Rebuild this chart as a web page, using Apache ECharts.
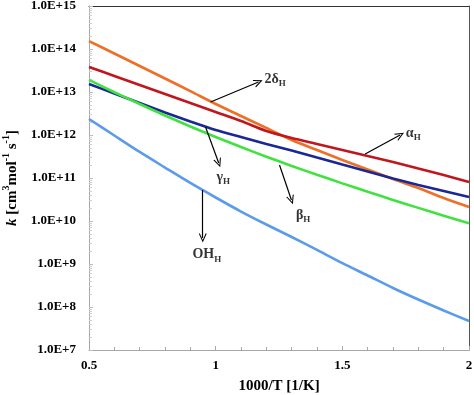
<!DOCTYPE html>
<html>
<head>
<meta charset="utf-8">
<script src="https://cdn.jsdelivr.net/npm/echarts@6/dist/echarts.min.js"></script>
<style>html,body{margin:0;padding:0;background:#fff}#c{width:474px;height:395px}</style>
</head>
<body>
<div id="c"></div>
<script>
// x values: 1000/T [1/K]
const xInvT = [0.5,0.6,0.7,0.8,0.9,1.0,1.1,1.2,1.3,1.4,1.5,1.6,1.7,1.8,1.9,2.0];
// k [cm3 mol-1 s-1]
const k2deltaH = [1.53e14,7.85e13,4.03e13,2.06e13,1.05e13,5.26e12,2.77e12,1.46e12,7.66e11,4.48e11,2.62e11,1.58e11,9.48e10,5.85e10,3.43e10,2.12e10];
const kAlphaH  = [3.81e13,2.36e13,1.46e13,8.98e12,5.55e12,3.43e12,2.12e12,1.24e12,8.51e11,6.18e11,4.48e11,3.25e11,2.36e11,1.66e11,1.17e11,8.07e10];
const kGammaH  = [1.53e13,9.23e12,5.55e12,3.33e12,2.06e12,1.31e12,8.98e11,6.18e11,4.37e11,3.00e11,2.06e11,1.42e11,9.73e10,6.87e10,4.99e10,3.61e10];
const kBetaH   = [1.91e13,9.89e12,5.25e12,2.85e12,1.58e12,9.02e11,5.25e11,3.13e11,1.91e11,1.19e11,7.50e10,4.79e10,3.09e10,2.02e10,1.33e10,8.91e9];
const kOHH     = [2.36e12,9.73e11,4.03e11,1.75e11,7.66e10,3.52e10,1.66e10,8.30e9,4.25e9,2.12e9,1.05e9,5.41e8,2.77e8,1.49e8,8.30e7,4.72e7];

// annotation arrows: [start point on curve, arrow tip] and label anchors (data coords)
const arrow2deltaH = [[0.98,5.85e12],[1.169,1.71e13]];
const arrowAlphaH  = [[1.59,3.6e11],[1.728,1.0e12]];
const arrowGammaH  = [[0.96,1.53e12],[1.012,2.23e11]];
const arrowBetaH   = [[1.252,2.0e11],[1.299,3.07e10]];
const arrowOHH     = [[0.949,5.25e10],[0.949,4.03e9]];
const labelPoints = [
  {name:'{b|2δ}{s|H}', value:[1.235,1.9e13]},
  {name:'{b|α}{s|H}',  value:[1.78,1.05e12]},
  {name:'{b|γ}{s|H}',  value:[1.03,1.0e11]},
  {name:'{b|β}{s|H}',  value:[1.345,1.3e10]},
  {name:'{b|OH}{s|H}', value:[0.965,1.55e9]}
];

const FONT = 'Liberation Serif';
const chevron = 'path://M0,10 L5,0 L10,10 L8.6,10 L5,2.8 L1.4,10 Z';

function pairs(xs, ys){ return xs.map((x,i)=>[x,ys[i]]); }
function arrowLine(a){
  return {
    silent:true, symbol:['none', chevron], symbolSize:[8,9],
    lineStyle:{color:'#000', width:1.2, type:'solid'},
    label:{show:false}, emphasis:{disabled:true},
    data:[[{coord:a[0]},{coord:a[1]}]]
  };
}
function curve(name, ys, color, arrow){
  return {
    name, type:'line', data:pairs(xInvT, ys), smooth:0.25, showSymbol:false,
    lineStyle:{color, width:2.6}, itemStyle:{color}, z:3,
    markLine: arrowLine(arrow)
  };
}

const chart = echarts.init(document.getElementById('c'), null, {renderer:'canvas'});
chart.setOption({
  animation:false,
  backgroundColor:'#fff',
  grid:{left:89, right:5, top:6, bottom:45, containLabel:false, outerBoundsMode:'none'},
  xAxis:[{
    type:'value', min:0.5, max:2, interval:0.5,
    name:'1000/T [1/K]', nameLocation:'middle', nameGap:29,
    nameTextStyle:{fontFamily:FONT, fontWeight:'bold', fontSize:15, color:'#000'},
    axisLine:{lineStyle:{color:'#a8a8a8', width:1}},
    axisTick:{inside:true, length:4, lineStyle:{color:'#a8a8a8'}},
    minorTick:{show:true, splitNumber:5, length:3, lineStyle:{color:'#a8a8a8'}},
    axisLabel:{fontFamily:FONT, fontWeight:'bold', fontSize:13, color:'#000', margin:9},
    splitLine:{show:false}
  },{
    type:'value', position:'top', min:0.5, max:2,
    axisLine:{show:true, lineStyle:{color:'#333', width:1}},
    axisTick:{show:false}, axisLabel:{show:false}, splitLine:{show:false}
  }],
  yAxis:[{
    type:'log', logBase:10, min:1e7, max:1e15, splitNumber:8,
    name:'{i|k} {n|[cm}{p|3}{n|mol}{p|-1}{n| s}{p|-1}{n|]}', nameLocation:'middle', nameGap:61,
    nameTextStyle:{
      fontFamily:FONT, fontWeight:'bold', fontSize:15, color:'#000',
      rich:{
        i:{fontFamily:FONT, fontWeight:'bold', fontStyle:'italic', fontSize:15, lineHeight:18, verticalAlign:'bottom'},
        n:{fontFamily:FONT, fontWeight:'bold', fontSize:15, lineHeight:18, verticalAlign:'bottom'},
        p:{fontFamily:FONT, fontWeight:'bold', fontSize:10, lineHeight:12, verticalAlign:'top'}
      }
    },
    axisLine:{show:true, lineStyle:{color:'#a8a8a8', width:1}},
    axisTick:{show:true, inside:true, length:4, lineStyle:{color:'#bdbdbd'}},
    minorTick:{show:true, splitNumber:9, length:3, lineStyle:{color:'#cfcfcf'}},
    axisLabel:{fontFamily:FONT, fontWeight:'bold', fontSize:13, color:'#000', margin:13,
      formatter:v=>Number(v).toExponential(1).toUpperCase()},
    splitLine:{show:false}
  },{
    type:'log', logBase:10, min:1e7, max:1e15, position:'right',
    axisLine:{show:true, lineStyle:{color:'#555', width:1}},
    axisTick:{show:false}, axisLabel:{show:false}, splitLine:{show:false}
  }],
  series:[
    curve('2δH', k2deltaH, '#EE6F25', arrow2deltaH),
    curve('αH', kAlphaH, '#C0161E', arrowAlphaH),
    curve('γH', kGammaH, '#1A2896', arrowGammaH),
    curve('βH', kBetaH, '#3FE23F', arrowBetaH),
    curve('OHH', kOHH, '#5A9CEB', arrowOHH),
    {
      type:'scatter', data:labelPoints, symbolSize:0, silent:true, z:5,
      label:{show:true, position:'inside', formatter:p=>p.name, color:'#000',
        rich:{
          b:{fontFamily:FONT, fontWeight:'bold', fontSize:14, color:'#000', lineHeight:16, verticalAlign:'top'},
          s:{fontFamily:FONT, fontWeight:'bold', fontSize:9, color:'#000', lineHeight:9, verticalAlign:'bottom'}
        }}
    }
  ]
});
</script>
</body>
</html>
